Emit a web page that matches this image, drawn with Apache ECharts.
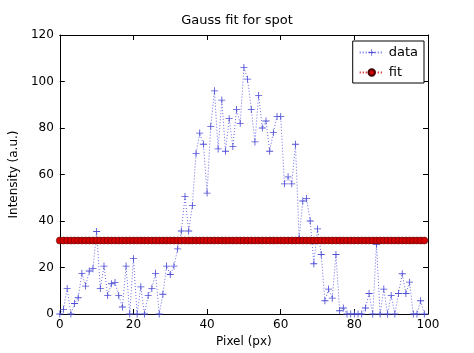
<!DOCTYPE html>
<html>
<head>
<meta charset="utf-8">
<script src="https://cdn.jsdelivr.net/npm/echarts@6/dist/echarts.min.js"></script>
<style>
html, body { margin: 0; padding: 0; background: #fff; }
#main { width: 474px; height: 353px; }
</style>
</head>
<body>
<div id="main"></div>
<script>
// measured intensity per pixel (0..99)
var intensity = [
    0, 2, 11, 0, 4.5, 7, 17.5, 12, 18.5, 19.5,
    35.5, 11, 20.6, 8, 13, 13.5, 8, 3, 20.6, 0,
    23.8, 0, 11.7, 0, 8, 11, 17.5, 0, 8.5, 20.6,
    17, 20.6, 28, 35.7, 50.5, 35.7, 46.7, 69, 77.8, 73,
    52, 80.7, 96, 71, 92, 70, 84, 72, 88, 82,
    106, 101, 88, 74, 94, 80, 83, 70, 78, 85,
    85, 56, 59, 56, 73, 32.7, 48.6, 49.7, 40, 21.6,
    36.6, 25.6, 5.7, 10.7, 6.8, 25.6, 1.4, 2.6, 0, 0,
    0, 0, 0, 2.6, 8.8, 0, 30, 0, 10.7, 0,
    8, 0, 8.8, 17.3, 8.8, 13.7, 0, 0, 5.7, 0
];
// fitted curve (came out flat)
var fit = [
    31.6, 31.6, 31.6, 31.6, 31.6, 31.6, 31.6, 31.6, 31.6, 31.6,
    31.6, 31.6, 31.6, 31.6, 31.6, 31.6, 31.6, 31.6, 31.6, 31.6,
    31.6, 31.6, 31.6, 31.6, 31.6, 31.6, 31.6, 31.6, 31.6, 31.6,
    31.6, 31.6, 31.6, 31.6, 31.6, 31.6, 31.6, 31.6, 31.6, 31.6,
    31.6, 31.6, 31.6, 31.6, 31.6, 31.6, 31.6, 31.6, 31.6, 31.6,
    31.6, 31.6, 31.6, 31.6, 31.6, 31.6, 31.6, 31.6, 31.6, 31.6,
    31.6, 31.6, 31.6, 31.6, 31.6, 31.6, 31.6, 31.6, 31.6, 31.6,
    31.6, 31.6, 31.6, 31.6, 31.6, 31.6, 31.6, 31.6, 31.6, 31.6,
    31.6, 31.6, 31.6, 31.6, 31.6, 31.6, 31.6, 31.6, 31.6, 31.6,
    31.6, 31.6, 31.6, 31.6, 31.6, 31.6, 31.6, 31.6, 31.6, 31.6
];
var xTicks = [0, 20, 40, 60, 80, 100];
var yTicks = [0, 20, 40, 60, 80, 100, 120];

var FONT = 'DejaVu Sans';
var plus = 'path://M4.4,0H5.6V4.4H10V5.6H5.6V10H4.4V5.6H0V4.4H4.4Z';

function pairs(arr) {
    return arr.map(function (v, i) { return [i, v]; });
}

var myChart = echarts.init(document.getElementById('main'));

function axisCommon(ticks, showLabel) {
    return {
        type: 'value',
        min: ticks[0],
        max: ticks[ticks.length - 1],
        interval: ticks[1] - ticks[0],
        axisLine: { show: true, onZero: false, lineStyle: { color: '#000', width: 1 } },
        axisTick: { show: true, inside: true, length: 5, lineStyle: { color: '#000' } },
        axisLabel: { show: showLabel, color: '#000', fontFamily: FONT, fontSize: 12 },
        splitLine: { show: false }
    };
}

var xBottom = axisCommon(xTicks, true);
xBottom.position = 'bottom';
xBottom.name = 'Pixel (px)';
xBottom.nameLocation = 'middle';
xBottom.nameGap = 22;
xBottom.nameTextStyle = { color: '#000', fontFamily: FONT, fontSize: 12 };
xBottom.axisLabel.margin = 5;
var xTop = axisCommon(xTicks, false);
xTop.position = 'top';

var yLeft = axisCommon(yTicks, true);
yLeft.position = 'left';
yLeft.name = 'Intensity (a.u.)';
yLeft.nameLocation = 'middle';
yLeft.nameGap = 33;
yLeft.nameTextStyle = { color: '#000', fontFamily: FONT, fontSize: 12 };
yLeft.axisLabel.margin = 6;
var yRight = axisCommon(yTicks, false);
yRight.position = 'right';

option = {
    backgroundColor: '#fff',
    animation: false,
    title: {
        text: 'Gauss fit for spot',
        left: 'center',
        top: 9,
        textStyle: { color: '#000', fontFamily: FONT, fontSize: 13, fontWeight: 'normal' }
    },
    grid: { left: 59, right: 46, top: 35, bottom: 36 },
    legend: {
        orient: 'vertical',
        right: 50,
        top: 41,
        padding: [5, 6, 4, 6],
        itemGap: 7,
        itemWidth: 24,
        itemHeight: 8,
        borderColor: '#000',
        borderWidth: 1,
        borderRadius: 0,
        backgroundColor: '#fff',
        textStyle: { color: '#000', fontFamily: FONT, fontSize: 13 },
        data: ['data', 'fit']
    },
    xAxis: [xBottom, xTop],
    yAxis: [yLeft, yRight],
    series: [
        {
            name: 'data',
            type: 'line',
            data: pairs(intensity),
            symbol: plus,
            symbolSize: 7,
            showAllSymbol: true,
            itemStyle: { color: '#4f4fd6' },
            lineStyle: { color: '#6a6ae6', width: 1, type: [1, 2] },
            z: 3
        },
        {
            name: 'fit',
            type: 'line',
            data: pairs(fit),
            symbol: 'circle',
            symbolSize: 7,
            showAllSymbol: true,
            itemStyle: { color: '#d40000', borderColor: '#400', borderWidth: 0.5 },
            lineStyle: { color: '#d40000', width: 1, type: [1, 2] },
            z: 4
        }
    ]
};

myChart.setOption(option);
</script>
</body>
</html>
